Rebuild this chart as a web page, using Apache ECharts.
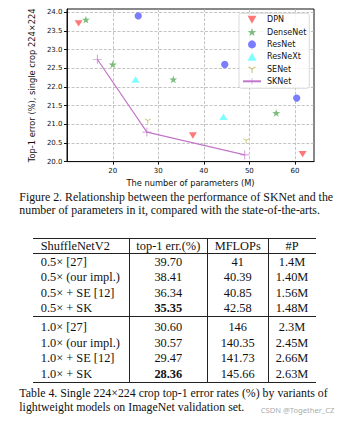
<!DOCTYPE html>
<html><head><meta charset="utf-8">
<script src="https://cdn.jsdelivr.net/npm/echarts@6/dist/echarts.min.js"></script>
<style>
html,body{margin:0;padding:0;background:#fff;width:343px;height:425px;overflow:hidden;position:relative;}
#chart{position:absolute;left:0;top:0;width:343px;height:192px;}
.t{position:absolute;font-family:"Liberation Serif","Times New Roman",serif;color:#111;white-space:nowrap;line-height:1;}
.r{position:absolute;background:#222;}
</style></head><body>
<div id="chart"></div>
<div id="page"></div>
<script>
// ---------- chart data ----------
const xTicks = [20, 30, 40, 50, 60];
const yTicks = [20.0, 20.5, 21.0, 21.5, 22.0, 22.5, 23.0, 23.5, 24.0];
const dpn      = [[12.5, 23.7], [37.6, 20.7], [61.7, 20.2]];
const densenet = [[14.1, 23.8], [20.0, 22.6], [33.3, 22.2], [55.9, 21.3]];
const resnet   = [[25.6, 23.9], [44.6, 22.6], [60.4, 21.7]];
const resnext  = [[25.0, 22.2], [44.3, 21.2]];
const senet    = [[27.7, 21.1], [49.3, 20.57]];
const sknet    = [[16.6, 22.74], [27.5, 20.79], [49.0, 20.18]];
const seriesNames = ['DPN', 'DenseNet', 'ResNet', 'ResNeXt', 'SENet', 'SKNet'];
const xTitle = 'The number of parameters (M)';
const yTitle = 'Top-1 error (%), single crop 224\u00d7224';

// ---------- table data ----------
const tableHeader = ['ShuffleNetV2', 'top-1 err.(%)', 'MFLOPs', '#P'];
const rowNames = ['0.5\u00d7 [27]', '0.5\u00d7 (our impl.)', '0.5\u00d7 + SE [12]', '0.5\u00d7 + SK',
                  '1.0\u00d7 [27]', '1.0\u00d7 (our impl.)', '1.0\u00d7 + SE [12]', '1.0\u00d7 + SK'];
const top1Err = ['39.70', '38.41', '36.34', '35.35', '30.60', '30.57', '29.47', '28.36'];
const mflops  = ['41', '40.39', '40.85', '42.58', '146', '140.35', '141.73', '145.66'];
const params  = ['1.4M', '1.40M', '1.56M', '1.48M', '2.3M', '2.45M', '2.66M', '2.63M'];
const boldRows = [3, 7];
const figCaption = ['Figure 2. Relationship between the performance of SKNet and the',
                    'number of parameters in it, compared with the state-of-the-arts.'];
const tabCaption = ['Table 4. Single 224\u00d7224 crop top-1 error rates (%) by variants of',
                    'lightweight models on ImageNet validation set.'];
const watermark = 'CSDN @Together_CZ';

// ---------- marker shapes ----------
function starPath() {
  let d = '';
  for (let k = 0; k < 10; k++) {
    const a = (-90 + k * 36) * Math.PI / 180, r = (k % 2 === 0) ? 10 : 3.9;
    d += (k === 0 ? 'M' : 'L') + (10 + r * Math.cos(a)).toFixed(2) + ',' + (10 + r * Math.sin(a)).toFixed(2);
  }
  return 'path://' + d + 'Z';
}
function seg(x1, y1, x2, y2, w) {
  const dx = x2 - x1, dy = y2 - y1, L = Math.hypot(dx, dy), nx = -dy / L * w / 2, ny = dx / L * w / 2;
  return 'M' + (x1 + nx).toFixed(2) + ',' + (y1 + ny).toFixed(2) + 'L' + (x2 + nx).toFixed(2) + ',' + (y2 + ny).toFixed(2) +
         'L' + (x2 - nx).toFixed(2) + ',' + (y2 - ny).toFixed(2) + 'L' + (x1 - nx).toFixed(2) + ',' + (y1 - ny).toFixed(2) + 'Z';
}
const triY = 'path://' + seg(10, 10, 10, 20, 2.6) + seg(10, 10, 1.34, 5, 2.6) + seg(10, 10, 18.66, 5, 2.6) + 'M10,0L10.01,0L10,0.01Z';
const plusP = 'path://M9.2,0H10.8V9.2H20V10.8H10.8V20H9.2V10.8H0V9.2H9.2Z';
const triDown = 'path://M0,0L10,0L5,9Z';
const triUp = 'path://M5,0L10,9L0,9Z';

const C = {dpn: '#ff7878', dense: '#7cbd7c', res: '#7c7cff', resx: '#7cffff', se: '#c9c272', sk: '#c376c9'};

const chart = echarts.init(document.getElementById('chart'), null, {renderer: 'svg'});
const font = 'DejaVu Sans';
chart.setOption({
  animation: false,
  grid: {left: 67, top: 9, width: 247, height: 157, show: true, borderColor: '#111', borderWidth: 1, backgroundColor: 'transparent'},
  xAxis: {
    type: 'value', min: 9.95, max: 64.2,
    name: xTitle, nameLocation: 'middle', nameGap: 13.5,
    nameTextStyle: {fontFamily: font, fontSize: 8.3, color: '#111'},
    axisLine: {show: true, lineStyle: {color: '#111', width: 1}},
    axisTick: {show: true, inside: false, length: 3, customValues: xTicks, lineStyle: {color: '#111'}},
    axisLabel: {customValues: xTicks, fontFamily: font, fontSize: 7, color: '#111', margin: 5.5, formatter: v => String(v)},
    splitLine: {show: true, lineStyle: {color: '#b5b5b5', type: [3, 1.6], width: 0.8}}
  },
  yAxis: {
    type: 'value', min: 20.0, max: 24.085,
    name: yTitle, nameLocation: 'middle', nameGap: 24, nameRotate: 90,
    nameTextStyle: {fontFamily: font, fontSize: 8.3, color: '#111'},
    axisLine: {show: true, lineStyle: {color: '#111', width: 1}},
    axisTick: {show: true, inside: false, length: 3, customValues: yTicks, lineStyle: {color: '#111'}},
    axisLabel: {customValues: yTicks, showMinLabel: true, fontFamily: font, fontSize: 7, color: '#111', margin: 4.5, formatter: v => v.toFixed(1)},
    splitLine: {show: true, lineStyle: {color: '#b5b5b5', type: [3, 1.6], width: 0.8}}
  },
  legend: {
    orient: 'vertical', left: 239, top: 13.3,
    data: seriesNames,
    itemWidth: 18, itemHeight: 8, itemGap: 4.3,
    padding: [2.5, 3, 3, 3],
    backgroundColor: 'rgba(255,255,255,0.85)', borderColor: '#d0d0d0', borderWidth: 0.8, borderRadius: 2.5,
    textStyle: {fontFamily: font, fontSize: 8, color: '#111', padding: [0, 0, 0, 1]}
  },
  series: [
    {name: 'DPN', type: 'scatter', data: dpn, symbol: triDown, symbolSize: [8, 7.2], symbolKeepAspect: true, itemStyle: {color: C.dpn, opacity: 1}},
    {name: 'DenseNet', type: 'scatter', data: densenet, symbol: starPath(), symbolSize: 8, symbolKeepAspect: true, itemStyle: {color: C.dense, opacity: 1}},
    {name: 'ResNet', type: 'scatter', data: resnet, symbol: 'circle', symbolSize: 7.3, symbolKeepAspect: true, itemStyle: {color: C.res, opacity: 1}},
    {name: 'ResNeXt', type: 'scatter', data: resnext, symbol: triUp, symbolSize: [8, 7.2], symbolKeepAspect: true, itemStyle: {color: C.resx, opacity: 1}},
    {name: 'SENet', type: 'scatter', data: senet, symbol: triY, symbolSize: 6.5, symbolKeepAspect: true, itemStyle: {color: C.se, opacity: 1}},
    {name: 'SKNet', type: 'line', data: sknet, symbol: plusP, symbolSize: 9, symbolKeepAspect: true, showSymbol: true,
     lineStyle: {color: C.sk, width: 1.2}, itemStyle: {color: C.sk, opacity: 1}}
  ]
});

// ---------- captions & table (HTML text) ----------
const page = document.getElementById('page');
const cv = document.createElement('canvas').getContext('2d');
function fitSize(text, target) {
  cv.font = '100px "Liberation Serif"';
  return 100 * target / cv.measureText(text).width;
}
function put(text, x, y, fs, align, bold, extra) {
  const d = document.createElement('div');
  d.className = 't';
  d.textContent = text;
  d.style.fontSize = fs + 'px';
  if (bold) d.style.fontWeight = 'bold';
  d.style.top = y + 'px';
  let tx = '0';
  if (align === 'center') tx = '-50%';
  d.style.left = x + 'px';
  d.style.transform = 'translate(' + tx + ',-50%)';
  if (extra) Object.assign(d.style, extra);
  page.appendChild(d);
}
function rule(x, y, w, h) {
  const d = document.createElement('div');
  d.className = 'r';
  d.style.left = x + 'px'; d.style.top = y + 'px'; d.style.width = w + 'px'; d.style.height = h + 'px';
  page.appendChild(d);
}
const capFs = fitSize(figCaption[0], 314);
put(figCaption[0], 19.3, 197.5, capFs);
put(figCaption[1], 19.3, 211, capFs);

const tFs = fitSize(rowNames[1], 79.3);
const colL = 40.7, colC = [168.3, 237.7, 292];
const headY = 245.6;
const rowY = [262.3, 277.3, 292.6, 308.0, 326.7, 342.6, 358.3, 373.8];
put(tableHeader[0], colL, headY, tFs);
for (let j = 1; j < 4; j++) put(tableHeader[j], colC[j - 1], headY, tFs, 'center');
for (let i = 0; i < rowNames.length; i++) {
  const b = boldRows.includes(i);
  put(rowNames[i], colL, rowY[i], tFs);
  put(top1Err[i], colC[0], rowY[i], tFs, 'center', b);
  put(mflops[i], colC[1], rowY[i], tFs, 'center');
  put(params[i], colC[2], rowY[i], tFs, 'center');
}
// horizontal rules
rule(33.3, 238, 283, 1.2);
rule(33.3, 253, 283, 0.8);
rule(33.3, 316.2, 283, 0.9);
rule(33.3, 381.8, 283, 1.2);
// vertical rules
[129.3, 207.3, 268.3].forEach(x => rule(x - 0.6, 238, 1.2, 145));

put(tabCaption[0], 19.3, 393.5, capFs);
put(tabCaption[1], 19.3, 407.5, capFs);
put(watermark, 260.7, 410.5, 7.6, 'left', false, {fontFamily: '"Noto Sans", "DejaVu Sans", sans-serif', color: '#aaa'});
</script>
</body></html>
